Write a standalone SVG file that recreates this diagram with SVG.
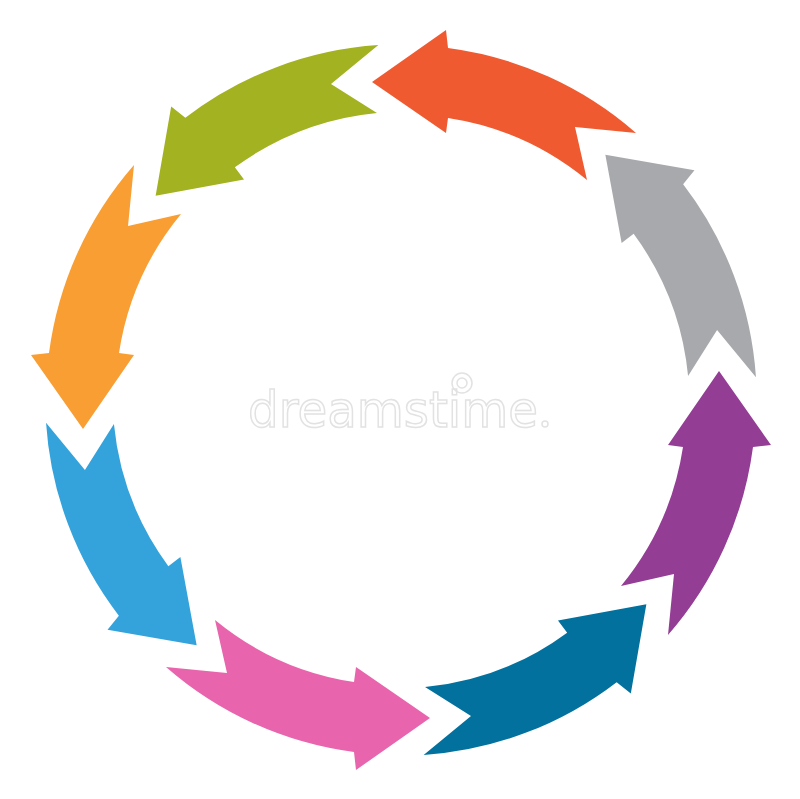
<svg xmlns="http://www.w3.org/2000/svg" xmlns:xlink="http://www.w3.org/1999/xlink" width="800" height="799" viewBox="0 0 800 799">
  <style>
    .wm { font-family: "DejaVu Sans", "Liberation Sans", sans-serif; font-size: 50px; fill: none; stroke: #e2e2e2; stroke-width: 1.5; }
    .wmc { fill: none; stroke: #e2e2e2; stroke-width: 1.5; }
  </style>
  <defs>
    <path id="arrow" d="M -29 -318 L 45 -370 L 47 -352 A 355.5 355.5 0 0 1 235 -267 L 174 -273 L 186 -220 A 287 287 0 0 0 47 -282 L 45 -267 Z"/>
  </defs>
  <rect width="800" height="799" fill="#ffffff"/>
  <g id="watermark">
    <text class="wm" x="248" y="427" textLength="290" lengthAdjust="spacingAndGlyphs">dreamstime</text>
    <circle class="wmc" cx="462" cy="383" r="10"/>
    <circle class="wmc" cx="462" cy="383" r="5"/>
    <circle class="wmc" cx="545" cy="424" r="3"/>
  </g>
  <g id="arrow-red" transform="translate(401 400)">
    <use xlink:href="#arrow" href="#arrow" fill="#F05A30"/>
  </g>
  <g id="arrow-green" transform="translate(401 400) rotate(-45)">
    <use xlink:href="#arrow" href="#arrow" fill="#A3B221"/>
  </g>
  <g id="arrow-orange" transform="translate(401 400) rotate(-90)">
    <use xlink:href="#arrow" href="#arrow" fill="#F99E33"/>
  </g>
  <g id="arrow-lightblue" transform="translate(401 400) rotate(-135)">
    <use xlink:href="#arrow" href="#arrow" fill="#34A3DC"/>
  </g>
  <g id="arrow-pink" transform="translate(401 400) rotate(-180)">
    <use xlink:href="#arrow" href="#arrow" fill="#E865AD"/>
  </g>
  <g id="arrow-darkblue" transform="translate(401 400) rotate(-225)">
    <use xlink:href="#arrow" href="#arrow" fill="#02719E"/>
  </g>
  <g id="arrow-purple" transform="translate(401 400) rotate(-270)">
    <use xlink:href="#arrow" href="#arrow" fill="#933D95"/>
  </g>
  <g id="arrow-gray" transform="translate(401 400) rotate(-315)">
    <use xlink:href="#arrow" href="#arrow" fill="#A8A9AC"/>
  </g>
  <g id="connectors"/>
</svg>
